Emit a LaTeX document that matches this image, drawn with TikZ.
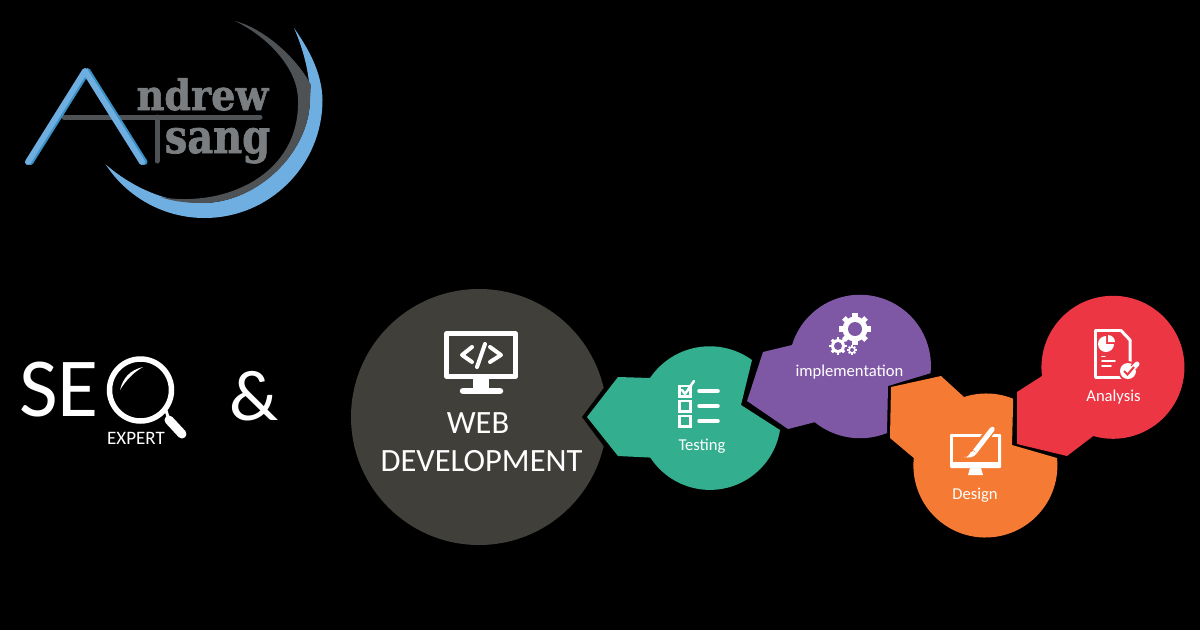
\documentclass[tikz,border=0pt]{standalone}
\usepackage{fontspec}
\setmainfont{Carlito}
\newfontfamily\logofont[FakeBold=1.6]{DejaVu Serif}
\usetikzlibrary{positioning}

\definecolor{tealfill}{HTML}{33AE8E}
\definecolor{purplefill}{HTML}{7F58A5}
\definecolor{orangefill}{HTML}{F57A33}
\definecolor{redfill}{HTML}{EC3644}
\definecolor{darkfill}{HTML}{403F3A}
\definecolor{bluelight}{HTML}{6FAEE0}
\definecolor{bluedark}{HTML}{3A90C4}
\definecolor{logogrey}{HTML}{4F5254}
\definecolor{lettergrey}{HTML}{7B7E80}

\tikzset{
  steplabel/.style={text=white, font=\fontsize{16.6}{18}\selectfont, inner sep=0pt},
  iconline/.style={draw=white, line cap=round, line join=round},
  logoletters/.style={text=lettergrey, inner sep=0pt, anchor=base, font=\logofont\bfseries\fontsize{#1}{#1}\selectfont},
}

% x y r hole teeth background
\newcommand{\gearicon}[6]{
  \foreach \a in {1,...,#5}
    \draw[white, line width=#3*0.42pt] (#1,#2) ++(\a*360/#5:#3*0.75) -- ++(\a*360/#5:#3*0.5);
  \fill[white] (#1,#2) circle[radius=#3];
  \fill[#6] (#1,#2) circle[radius=#4];
}

\begin{document}
\begin{tikzpicture}[x=1pt, y=-1pt]

    % Background
    \fill[black] (0,0) rectangle (1200,630);
    \useasboundingbox (0,0) rectangle (1200,630);

    % Logo crescents
    \fill[bluelight] (294,28) .. controls (308,48) and (322,72) .. (322.5,100)
        arc[start angle=0, end angle=147, radius=118]
        .. controls (135,190) and (170,203) .. (203,203)
        .. controls (255,203) and (309,155) .. (310,100)
        .. controls (310,85) and (308,60) .. (294,28) -- cycle;
    \fill[logogrey] (235,21) .. controls (262,28) and (295,55) .. (311,85)
        -- (310,100) .. controls (309,155) and (255,203) .. (203,203)
        .. controls (185,203) and (172,201) .. (160,197)
        .. controls (225,208) and (300,175) .. (298,100)
        .. controls (298,70) and (270,38) .. (235,21) -- cycle;

    % Logo letters
    \draw[logogrey, line width=5pt, line cap=round] (64,117) -- (260,117);
    \draw[logogrey, line width=5pt, line cap=round] (157,117) -- (157,161);
    \draw[bluedark, line width=6pt, line cap=round, line join=round] (30.5,162) -- (87.5,71) -- (144.5,162);
    \draw[bluelight, line width=6pt, line cap=round, line join=round] (28,162) -- (85,71) -- (142,162);
    \node at (202.5,110) (Andrew) [logoletters=42] {\scalebox{0.91}[1]{ndrew}};
    \node at (217.5,153) (Tsang) [logoletters=47] {\scalebox{0.85}[1]{sang}};

    % SEO
    \node at (59,390) (SE) [text=white, inner sep=0pt, font=\fontsize{84}{84}\selectfont] {SE};
    \node at (140.5,390) (Lens) [circle, draw=white, line width=5.5pt, minimum size=62pt, inner sep=0pt] {};
    \coordinate (HandleB) at (169,420);
    \coordinate (HandleC) at (182,434);
    \draw[white, line width=3pt] (Lens) ++(38:32) -- (HandleB);
    \draw[white, line width=9pt, line cap=round] (HandleB) -- (HandleC);
    \fill[white] (120,390) .. controls (123,378) and (130,370) .. (143,367)
        .. controls (134,372) and (126,380) .. (120,390) -- cycle;
    \node at (136,438) (Expert) [text=white, inner sep=0pt, font=\fontsize{19}{19}\selectfont] {EXPERT};
    \node at (254,396) (And) [text=white, inner sep=0pt, font=\fontsize{72}{72}\selectfont] {\&};

    % Web circle
    \node at (479,417) (Web) [circle, fill=darkfill, minimum size=256pt, inner sep=0pt] {};
    \fill[black] (582,417) -- (612,377) -- (612,457) -- cycle;
    \draw[iconline, line width=4.5pt] (446.5,333.5) rectangle (515.5,376.5);
    \fill[white] (473,378) rectangle (489,389);
    \draw[iconline, line width=6.5pt] (463,391) -- (500,391);
    \draw[iconline, line width=4pt] (472,347) -- (462,355) -- (472,362);
    \draw[iconline, line width=4pt] (490,347) -- (501,355) -- (490,362);
    \draw[iconline, line width=4pt] (485,344) -- (477,367);
    \node at (478,423) (WebA) [text=white, inner sep=0pt, font=\fontsize{32.5}{32}\selectfont] {WEB};
    \node at (481.5,461) (WebB) [text=white, inner sep=0pt, font=\fontsize{32.5}{32}\selectfont] {DEVELOPMENT};

    % Testing
    \fill[tealfill] (587,417) -- (618,377) -- (650,378)
        arc[start angle=-146, end angle=-54, radius=72]
        -- (741,405) -- (780,430)
        arc[start angle=9, end angle=147, radius=71]
        -- (618,456) -- cycle;
    \foreach \y in {386,401,416}
        \draw[white, line width=2.5pt] (679.5,\y) rectangle (690.5,\y+10.5);
    \foreach \y in {391,406,421}
        \draw[iconline, line width=3.5pt] (699,\y) -- (718,\y);
    \draw[iconline, line width=2.5pt] (682,390) -- (685,394) -- (694,381);
    \node at (702,446) (Testing) [steplabel] {Testing};

    % Implementation
    \fill[purplefill] (763,352) -- (792,345)
        arc[start angle=-163, end angle=6, radius=71]
        -- (888,386) -- (887,433)
        arc[start angle=68, end angle=129, radius=72]
        -- (788,429) -- (747,401) -- cycle;
    \gearicon{855}{329}{12.5}{7}{8}{purplefill}
    \gearicon{838}{346}{7}{4}{8}{purplefill}
    \gearicon{852}{350}{3.8}{2}{8}{purplefill}
    \node at (849.5,372) (Implementation) [steplabel] {implementation};

    % Design
    \fill[orangefill] (891,387) -- (941,376) -- (964,397)
        arc[start angle=-108, end angle=-68, radius=72]
        -- (1012,445) -- (1057,458)
        arc[start angle=-6, end angle=186, radius=72]
        -- (890,438) -- cycle;
    \fill[white, rounded corners=1pt] (950,434) rectangle (1001,468);
    \fill[orangefill] (953,437) rectangle (998,462);
    \fill[white] (970,468) -- (981,468) -- (983,475) -- (968,475) -- cycle;
    \draw[orangefill, line width=9pt] (991,430) -- (975,451);
    \fill[white] (990,428) .. controls (993,425) and (996,428) .. (994,431)
        -- (977,453) -- (973,450) -- cycle;
    \fill[white] (973,451) .. controls (971,451) and (970,453) .. (969,455)
        .. controls (968,457) and (966,457) .. (964,457)
        .. controls (968,458) and (974,458) .. (977,453) -- cycle;
    \node at (975,495) (Design) [steplabel] {Design};

    % Analysis
    \fill[redfill] (1017,392) -- (1042,376)
        arc[start angle=-187, end angle=106, radius=71.5]
        -- (1067,456) -- (1017,444) -- cycle;
    \draw[iconline, line width=3pt] (1121,330.5) -- (1095.5,330.5) -- (1095.5,377) -- (1125,377);
    \draw[iconline, line width=3pt] (1121,330.5) -- (1130,340) -- (1130,362);
    \fill[white] (1106,344) -- (1106,336) arc[start angle=-90, end angle=-360, radius=8] -- cycle;
    \fill[white] (1108,342) -- (1108,335) arc[start angle=-90, end angle=0, radius=7] -- cycle;
    \foreach \y/\xe in {356.5/1105,361/1115,366/1111}
        \draw[iconline, line width=1.8pt] (1102,\y) -- (\xe,\y);
    \fill[redfill] (1128,371) circle[radius=10];
    \fill[white] (1128,371) circle[radius=8];
    \draw[redfill, line width=7pt] (1133,368) -- (1137,364);
    \draw[iconline, line width=5pt] (1124,371) -- (1127.5,374.5) -- (1137,364);
    \draw[redfill, line width=2pt] (1124,371) -- (1127.5,374.5) -- (1134,367);
    \node at (1113.5,397) (Analysis) [steplabel] {Analysis};

\end{tikzpicture}
\end{document}
